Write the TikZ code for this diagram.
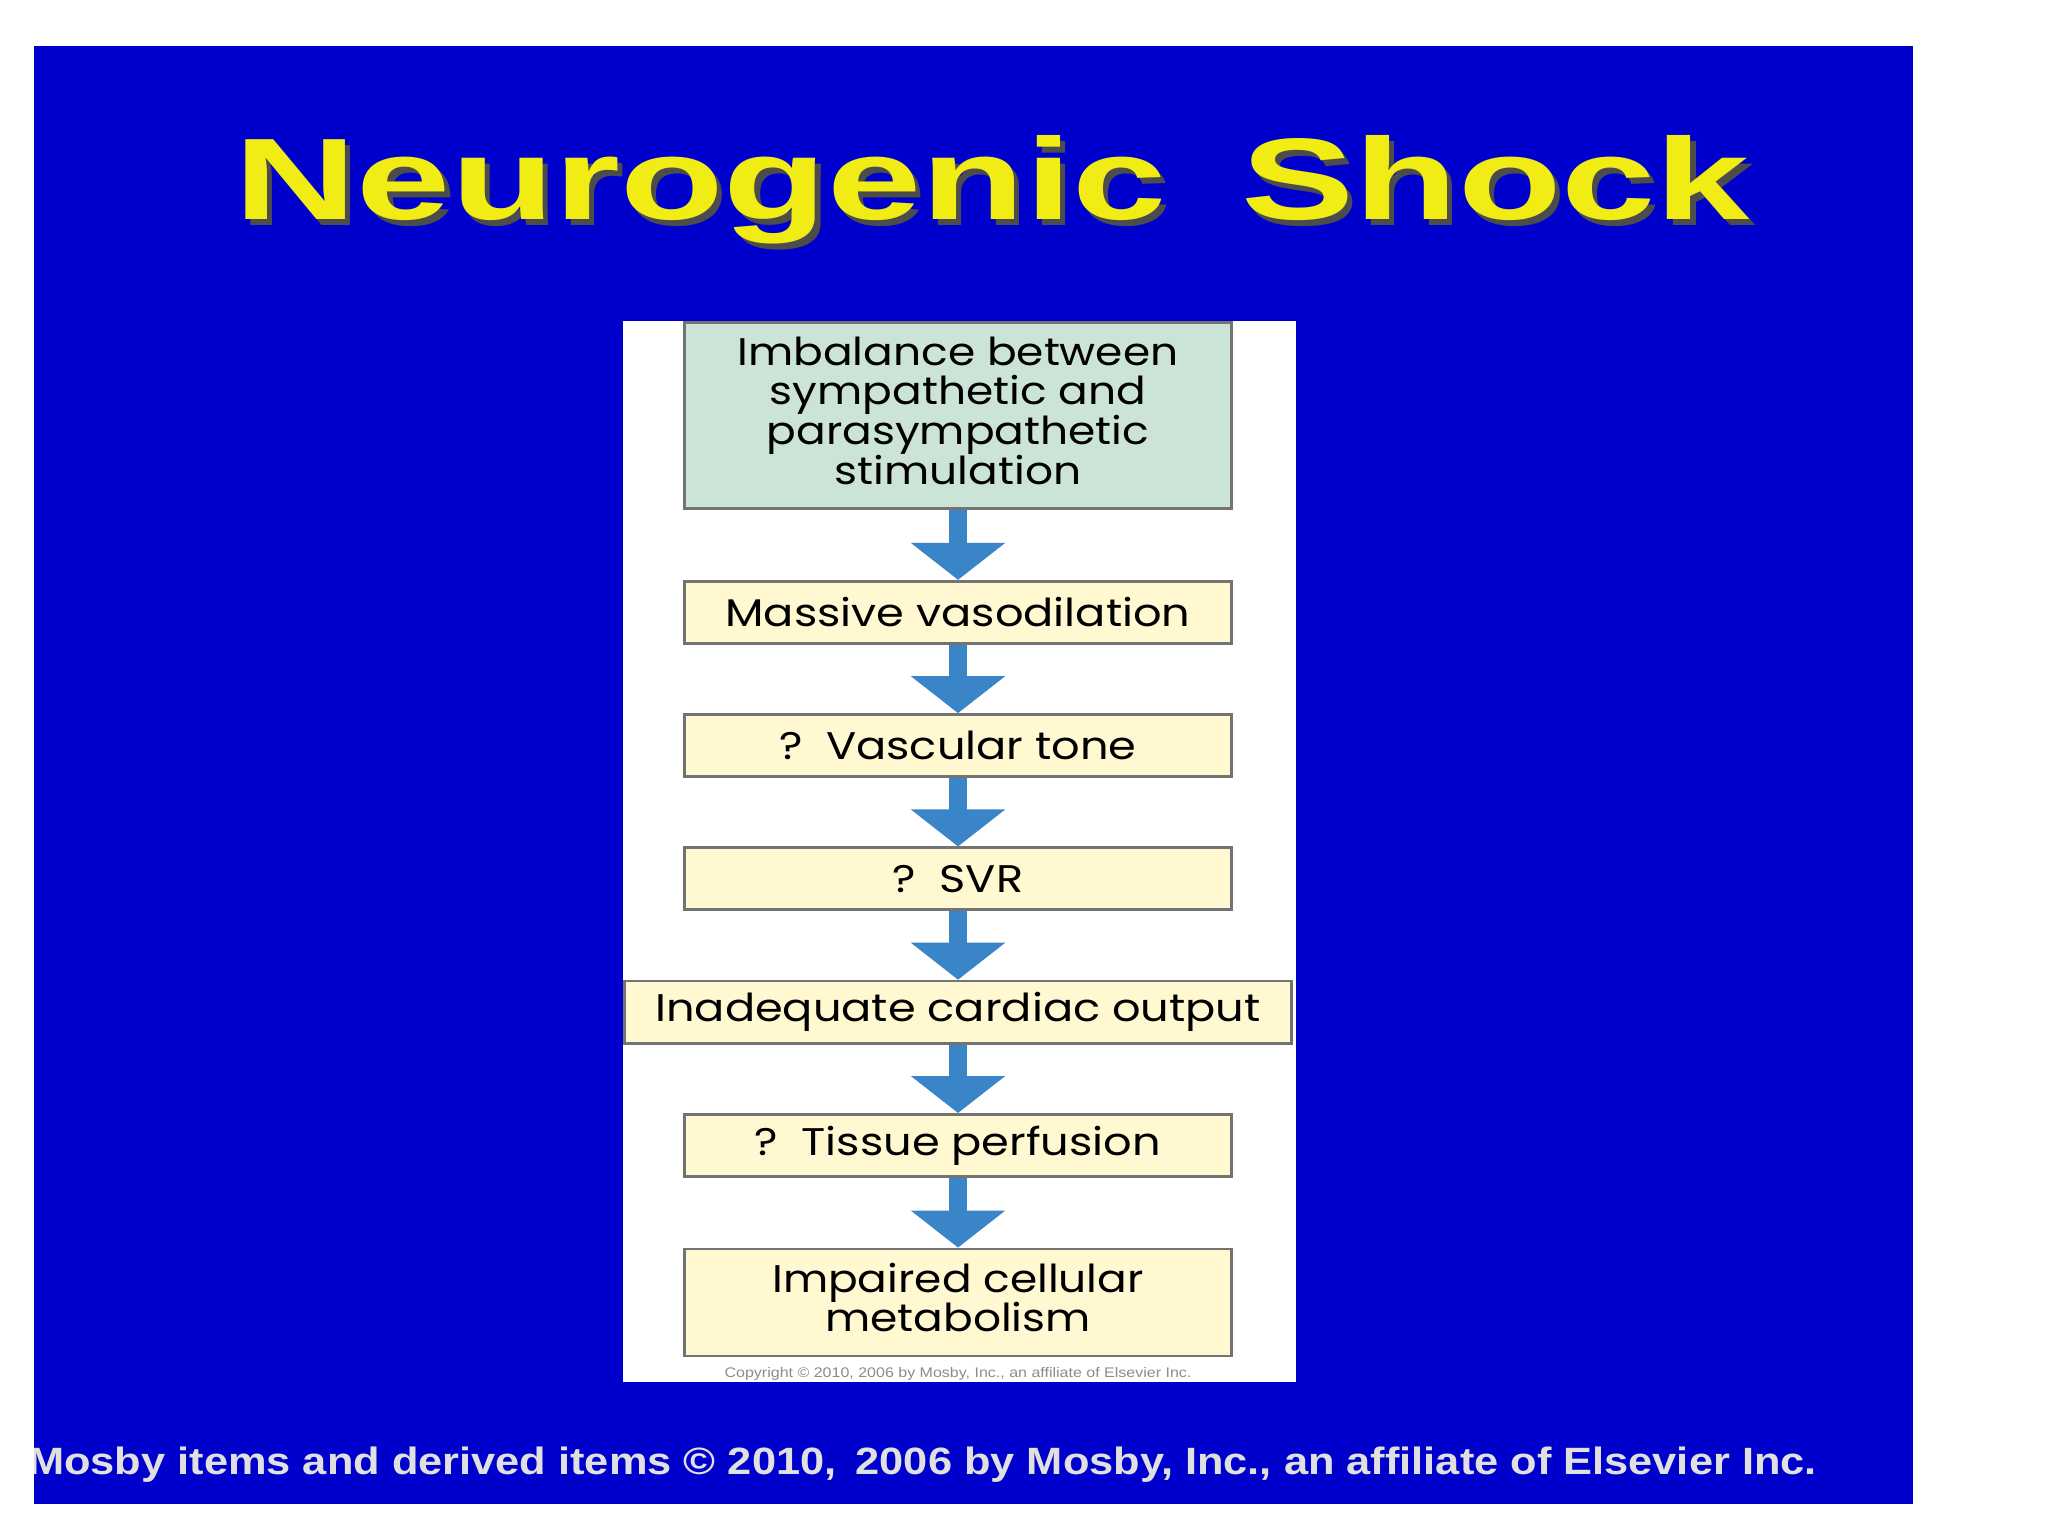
\documentclass[tikz,border=0pt]{standalone}
\usepackage{fontspec}
\setmainfont{Liberation Sans}
\newfontfamily\boxfont{Poppins}
\usetikzlibrary{arrows.meta}
\definecolor{bg}{RGB}{0,0,204}
\definecolor{ttl}{RGB}{240,236,20}
\definecolor{teal}{RGB}{204,228,216}
\definecolor{cream}{RGB}{255,248,208}
\definecolor{arr}{RGB}{58,132,200}
\begin{document}
\begin{tikzpicture}[x=0.01cm,y=-0.01cm,
  bx/.style={draw=black!55,line width=0.6pt,fill=cream,minimum height=0.47cm,minimum width=#1,align=center,inner sep=0pt,font=\boxfont\fontsize{8.3}{9}\selectfont},
  bx/.default=4.14cm,
  ar/.style={draw=arr,line width=0.14cm,-{Triangle[width=0.7cm,length=0.28cm]},shorten >=0pt}]
\useasboundingbox (0,0) rectangle (1552,1164);
\fill[white] (0,0) rectangle (1552,1164);
\fill[bg] (26,35) rectangle (1450,1140);
\node[text=black!70,font=\bfseries\fontsize{25}{30}\selectfont,xscale=1.46] at (756,148) {Neurogenic\, Shock};
\node[text=ttl,font=\bfseries\fontsize{25}{30}\selectfont,xscale=1.46] (title) at (752,144) {Neurogenic\, Shock};
\fill[white] (472,243) rectangle (982,1047);
\node[bx,fill=teal,minimum height=1.41cm] (b1) at (726,315) {\scalebox{1.14}[1]{\renewcommand\arraystretch{0.82}\begin{tabular}{@{}c@{}}Imbalance between\\ sympathetic and\\ parasympathetic\\ stimulation\end{tabular}}};
\node[bx] (b2) at (726,464) {\scalebox{1.16}[1]{Massive vasodilation}};
\node[bx] (b3) at (726,565) {\scalebox{1.16}[1]{?\, Vascular tone}};
\node[bx] (b4) at (726,666) {\scalebox{1.16}[1]{?\, SVR}};
\node[bx=5.05cm] (b5) at (726,767) {\scalebox{1.16}[1]{Inadequate cardiac output}};
\node[bx] (b6) at (726,868) {\scalebox{1.16}[1]{?\, Tissue perfusion}};
\node[bx,minimum height=0.81cm] (b7) at (726,987) {\scalebox{1.14}[1]{\renewcommand\arraystretch{0.82}\begin{tabular}{@{}c@{}}Impaired cellular\\ metabolism\end{tabular}}};
\foreach \a/\b in {b1/b2,b2/b3,b3/b4,b4/b5,b5/b6,b6/b7}
  \draw[ar] (\a.south) -- (\b.north);
\node[text=black!45,font=\fontsize{3}{3}\selectfont,xscale=1.15] (cp) at (726,1041) {Copyright © 2010, 2006 by Mosby, Inc., an affiliate of Elsevier Inc.};
\begin{scope}
\clip (26,1080) rectangle (1450,1140);
\node[anchor=east,text=white!88!black,font=\bfseries\fontsize{8.2}{9}\selectfont,xscale=1.14] (foot) at (1391,1110) {Mosby items and derived items © 2010,\, 2006 by Mosby, Inc., an affiliate of Elsevier Inc.};
\end{scope}
\end{tikzpicture}
\end{document}
